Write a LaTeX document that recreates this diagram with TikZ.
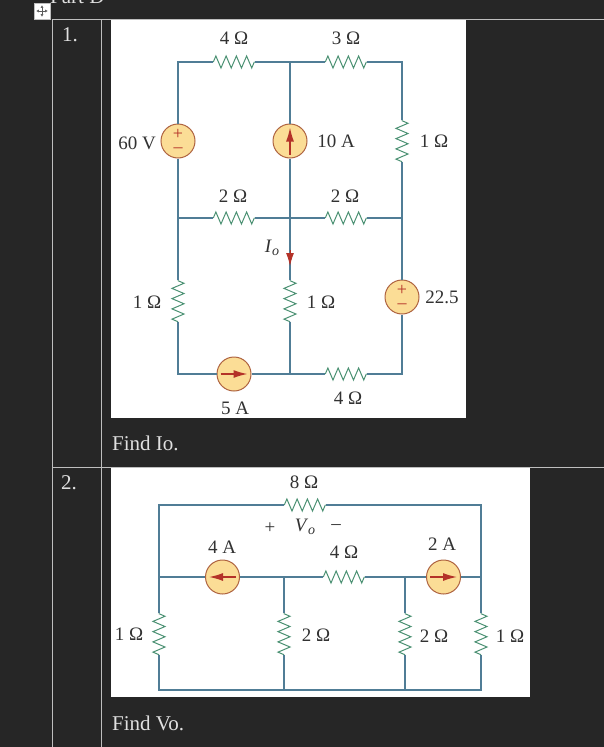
\documentclass[tikz,border=0pt]{standalone}
\usepackage{fontspec}
\setmainfont{Liberation Serif}
\usepackage{tikz}
\usetikzlibrary{arrows.meta,decorations.pathmorphing}
\definecolor{mypage}{RGB}{38,38,38}
\definecolor{myrule}{RGB}{190,190,190}
\definecolor{mywire}{RGB}{80,125,150}
\definecolor{myres}{RGB}{75,145,115}
\definecolor{mysrc}{RGB}{251,221,150}
\definecolor{myedge}{RGB}{175,100,65}
\definecolor{myred}{RGB}{180,50,40}
\definecolor{myink}{RGB}{50,50,50}
\tikzstyle{wire}=[draw=mywire,line width=1.1pt]
\tikzstyle{resh}=[minimum width=41pt,minimum height=12pt,inner sep=0pt]
\tikzstyle{resv}=[minimum width=12pt,minimum height=41pt,inner sep=0pt]
\tikzstyle{zig}=[draw=myres,line width=1pt,decorate,decoration={zigzag,segment length=10.25pt,amplitude=6pt}]
\tikzstyle{source}=[draw=myedge,fill=mysrc,circle,line width=1pt,minimum size=34pt,inner sep=0pt]
\tikzstyle{vsource}=[source,align=center,font=\fontsize{18}{12}\selectfont,text=myred]
\tikzstyle{flow}=[draw=myred,line width=1.4pt,-{Latex[length=14pt,width=8pt]},shorten <=4pt,shorten >=4pt]
\tikzstyle{val}=[text=myink,font=\fontsize{19}{20}\selectfont,inner sep=0pt]
\tikzstyle{word}=[text=white!88!black,font=\fontsize{21}{23}\selectfont,inner sep=0pt]
\tikzstyle{rule}=[draw=myrule,line width=0.7pt]
\tikzstyle{grip}=[draw=myink!80,line width=0.6pt,shorten <=2.5pt,shorten >=2.5pt,{Latex[length=2.5pt,width=3pt]}-{Latex[length=2.5pt,width=3pt]}]
\begin{document}
\begin{tikzpicture}[x=1pt,y=-1pt]
\useasboundingbox (0,0) rectangle (604,747);
\fill[mypage] (0,0) rectangle (604,747);
% table
\node[word,anchor=base west] (parttitle) at (50,3) {Part D};
\coordinate (rowa) at (52,19.5);
\coordinate (rowae) at (604,19.5);
\coordinate (rowb) at (52,467);
\coordinate (rowbe) at (604,467);
\coordinate (colae) at (52,747);
\coordinate (colb) at (101,19.5);
\coordinate (colbe) at (101,747);
\draw[rule] (rowa) -- (rowae);
\draw[rule] (rowb) -- (rowbe);
\draw[rule] (rowa) -- (colae);
\draw[rule] (colb) -- (colbe);
\node[draw=myrule,fill=white,minimum size=16pt,inner sep=0pt] (handle) at (42,11) {};
\draw[grip] (handle.west) -- (handle.east);
\draw[grip] (handle.north) -- (handle.south);
\node[word,anchor=base west] (numa) at (62,41) {1.};
\node[word,anchor=base west] (numb) at (61,489) {2.};
\fill[white] (111,20) rectangle (466,418);
\fill[white] (111,467.5) rectangle (530,697);
\node[word,anchor=base west] (finda) at (112,450) {Find Io.};
\node[word,anchor=base west] (findb) at (112,730) {Find Vo.};
% first circuit
\coordinate (tl) at (178,62);
\coordinate (tm) at (290,62);
\coordinate (tr) at (402,62);
\coordinate (ml) at (178,218);
\coordinate (mm) at (290,218);
\coordinate (mr) at (402,218);
\coordinate (bl) at (178,374);
\coordinate (bm) at (290,374);
\coordinate (br) at (402,374);
\node[resh] (r4t) at (234,62) {};
\node[resh] (r3t) at (346,62) {};
\node[resh] (r2a) at (234,218) {};
\node[resh] (r2b) at (346,218) {};
\node[resh] (r4b) at (346,374) {};
\node[resv] (r1r) at (402,141) {};
\node[resv] (r1l) at (178,301) {};
\node[resv] (r1m) at (290,301) {};
\node[vsource] (v60) at (178,141) {+\\[1pt]--};
\node[source] (i10) at (290,141) {};
\node[vsource] (v22) at (402,297) {+\\[1pt]--};
\node[source] (i5) at (234,374) {};
\draw[wire] (r4t.west) -- (tl) -- (v60.north);
\draw[wire] (v60.south) -- (ml) -- (r1l.north);
\draw[wire] (r1l.south) -- (bl) -- (i5.west);
\draw[wire] (i5.east) -- (bm) -- (r4b.west);
\draw[wire] (r4b.east) -- (br) -- (v22.south);
\draw[wire] (v22.north) -- (mr) -- (r1r.south);
\draw[wire] (r1r.north) -- (tr) -- (r3t.east);
\draw[wire] (r3t.west) -- (r4t.east);
\draw[wire] (tm) -- (i10.north);
\draw[wire] (i10.south) -- (mm);
\draw[wire] (ml) -- (r2a.west);
\draw[wire] (r2a.east) -- (r2b.west);
\draw[wire] (r2b.east) -- (mr);
\draw[wire] (mm) -- (r1m.north);
\draw[wire] (r1m.south) -- (bm);
\draw[zig] (r4t.west) -- (r4t.east);
\draw[zig] (r3t.west) -- (r3t.east);
\draw[zig] (r2a.west) -- (r2a.east);
\draw[zig] (r2b.west) -- (r2b.east);
\draw[zig] (r4b.west) -- (r4b.east);
\draw[zig] (r1r.south) -- (r1r.north);
\draw[zig] (r1l.south) -- (r1l.north);
\draw[zig] (r1m.south) -- (r1m.north);
\draw[flow] (i10.south) -- (i10.north);
\draw[flow] (i5.west) -- (i5.east);
\coordinate (ioa) at (290,250);
\coordinate (iob) at (290,266);
\draw[draw=myred,line width=1pt,-{Latex[length=13pt,width=8pt]}] (ioa) -- (iob);
\node[val] (la4t) at (234,38) {4 Ω};
\node[val] (la3t) at (346,38) {3 Ω};
\node[val] (la2a) at (233,196) {2 Ω};
\node[val] (la2b) at (345,196) {2 Ω};
\node[val] (la60) at (137,143) {60 V};
\node[val] (la10) at (336,141) {10 A};
\node[val] (la1r) at (434,141) {1 Ω};
\node[val] (la1l) at (147,302) {1 Ω};
\node[val] (la1m) at (321,302) {1 Ω};
\node[val] (la22) at (442,297) {22.5};
\node[val] (la5) at (235,408) {5 A};
\node[val] (la4b) at (348,398) {4 Ω};
\node[val] (laio) at (272,248) {\textit{I}\raisebox{-3pt}{\fontsize{14}{14}\selectfont\textit{o}}};
% second circuit
\coordinate (ttl) at (159,505);
\coordinate (ttr) at (481,505);
\coordinate (mml) at (159,577);
\coordinate (mma) at (284,577);
\coordinate (mmb) at (405,577);
\coordinate (mmr) at (481,577);
\coordinate (bbl) at (159,690);
\coordinate (bba) at (284,690);
\coordinate (bbb) at (405,690);
\coordinate (bbr) at (481,690);
\node[resh] (r8) at (305,505) {};
\node[resh] (r4m) at (344,577) {};
\node[resv] (r1a) at (159,634) {};
\node[resv] (r2c) at (284,634) {};
\node[resv] (r2d) at (405,634) {};
\node[resv] (r1b) at (481,634) {};
\node[source] (i4) at (222.5,577) {};
\node[source] (i2) at (443.5,577) {};
\draw[wire] (r8.west) -- (ttl) -- (mml) -- (r1a.north);
\draw[wire] (r1a.south) -- (bbl) -- (bbr) -- (r1b.south);
\draw[wire] (r1b.north) -- (ttr) -- (r8.east);
\draw[wire] (mml) -- (i4.west);
\draw[wire] (i4.east) -- (r4m.west);
\draw[wire] (r4m.east) -- (i2.west);
\draw[wire] (i2.east) -- (mmr);
\draw[wire] (mma) -- (r2c.north);
\draw[wire] (r2c.south) -- (bba);
\draw[wire] (mmb) -- (r2d.north);
\draw[wire] (r2d.south) -- (bbb);
\draw[zig] (r8.west) -- (r8.east);
\draw[zig] (r4m.west) -- (r4m.east);
\draw[zig] (r1a.south) -- (r1a.north);
\draw[zig] (r2c.south) -- (r2c.north);
\draw[zig] (r2d.south) -- (r2d.north);
\draw[zig] (r1b.south) -- (r1b.north);
\draw[flow] (i4.east) -- (i4.west);
\draw[flow] (i2.west) -- (i2.east);
\node[val] (la8) at (304,482) {8 Ω};
\node[val] (laplus) at (270,528) {+};
\node[val] (lavo) at (305,527) {\textit{V}\raisebox{-3pt}{\fontsize{14}{14}\selectfont\textit{o}}};
\node[val] (laminus) at (336,527) {--};
\node[val] (la4m) at (344,552) {4 Ω};
\node[val] (la4a) at (222,547) {4 A};
\node[val] (la2x) at (442,544) {2 A};
\node[val] (la1a) at (129,634) {1 Ω};
\node[val] (la2c) at (316,635) {2 Ω};
\node[val] (la2d) at (434,636) {2 Ω};
\node[val] (la1b) at (510,636) {1 Ω};
\end{tikzpicture}
\end{document}
